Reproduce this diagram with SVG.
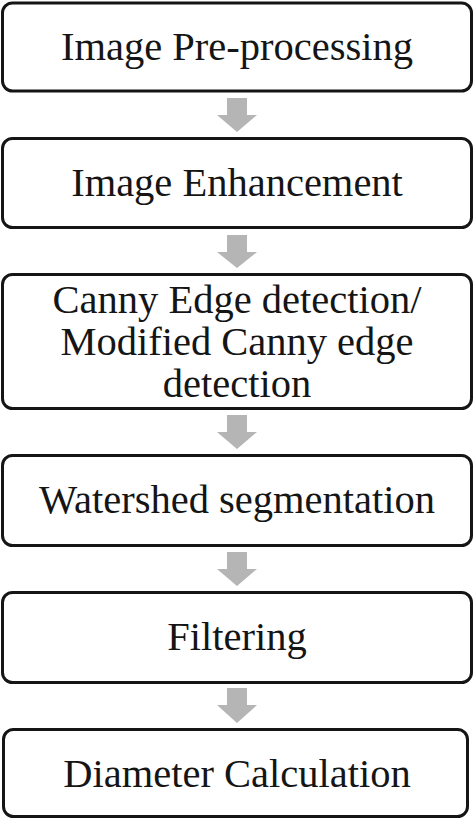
<svg xmlns="http://www.w3.org/2000/svg" width="474" height="822" viewBox="0 0 474 822">
<style>
.box{fill:#fff;stroke:#151515;stroke-width:3}
.lbl{font-family:"Liberation Serif","Times New Roman",serif;font-size:40.5px;fill:#151515;text-anchor:middle}
.arr{fill:#b5b5b5}
</style>
<rect width="474" height="822" fill="#fff"/>
<g id="connectors">
<path class="arr" d="M227,98 H247 V115 H257 L237,132 L217,115 H227 Z"/>
<path class="arr" d="M227,235 H247 V252 H257 L237,268 L217,252 H227 Z"/>
<path class="arr" d="M227,415 H247 V432 H257 L237,449 L217,432 H227 Z"/>
<path class="arr" d="M227,552 H247 V569 H257 L237,586 L217,569 H227 Z"/>
<path class="arr" d="M227,688 H247 V705 H257 L237,723 L217,705 H227 Z"/>
</g>
<g id="n1"><rect class="box" x="2.5" y="3" width="469" height="88" rx="10"/><text class="lbl" x="237" y="60">Image Pre-processing</text></g>
<g id="n2"><rect class="box" x="2.5" y="138.5" width="469" height="89" rx="10"/><text class="lbl" x="237" y="196">Image Enhancement</text></g>
<g id="n3"><rect class="box" x="2.5" y="274.5" width="469" height="134" rx="10"/><text class="lbl" x="237" y="313">Canny Edge detection/</text><text class="lbl" x="237" y="355">Modified Canny edge</text><text class="lbl" x="237" y="397">detection</text></g>
<g id="n4"><rect class="box" x="2.5" y="455.5" width="469" height="90" rx="10"/><text class="lbl" x="237" y="513">Watershed segmentation</text></g>
<g id="n5"><rect class="box" x="2.5" y="592.5" width="469" height="90" rx="10"/><text class="lbl" x="237" y="650">Filtering</text></g>
<g id="n6"><rect class="box" x="3.5" y="729.5" width="464" height="87" rx="10"/><text class="lbl" x="237" y="787">Diameter Calculation</text></g>
</svg>
